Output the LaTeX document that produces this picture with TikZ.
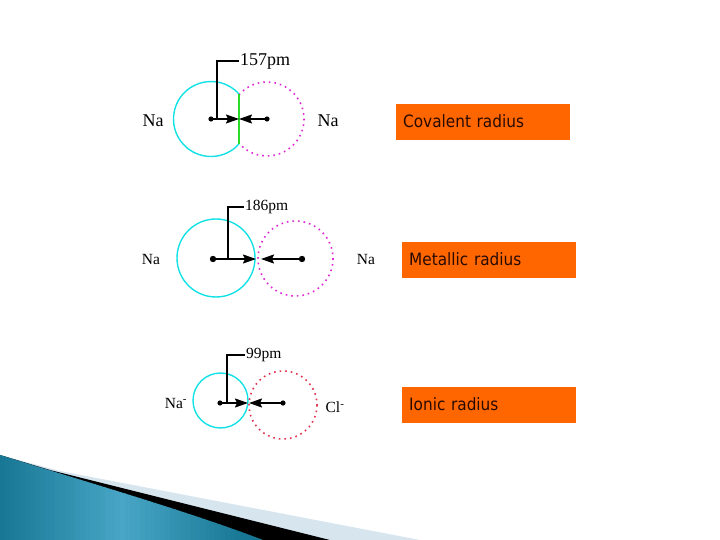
\documentclass[tikz,border=0pt]{standalone}
\usepackage{fontspec}
\setmainfont{Liberation Serif}
\newfontfamily\boxfont{DejaVu Sans}[FakeStretch=0.9]
\usetikzlibrary{arrows.meta}
\definecolor{shellcyan}{RGB}{20,225,230}
\definecolor{shellpink}{RGB}{225,40,215}
\definecolor{shellred}{RGB}{225,50,80}
\definecolor{bondgreen}{RGB}{40,220,40}
\definecolor{boxorange}{RGB}{255,102,0}
\definecolor{boxtext}{RGB}{40,10,0}
\definecolor{tealdark}{RGB}{22,118,148}
\definecolor{teallight}{RGB}{90,182,215}
\definecolor{sheen}{RGB}{214,229,238}
\tikzset{
	shell/.style={line width=1.4pt},
	ghost/.style={line width=1.6pt, dash pattern=on 1.6pt off 4pt},
	radius arrow/.style={line width=1.6pt, -{Stealth[length=13pt,width=9pt,inset=2pt]}},
	leader/.style={line width=1.5pt},
	radbox/.style={fill=boxorange, anchor=north west, minimum width=174pt, minimum height=36pt,
		text width=160pt, align=left, inner xsep=7pt, inner ysep=0pt, font=\boxfont\fontsize{17}{20}\selectfont, text=boxtext},
	big tag/.style={font=\fontsize{18}{20}\selectfont, inner sep=1pt},
	small tag/.style={font=\fontsize{15.5}{18}\selectfont, inner sep=1pt}
}
\begin{document}
\begin{tikzpicture}[x=1pt,y=-1pt]
		\useasboundingbox (0,0) rectangle (720,540);

		\fill[sheen] (0,455) -- (60,471) -- (420,540) -- (0,540) -- cycle;
		\fill[black] (0,455) -- (50,470) -- (330,540) -- (0,540) -- cycle;
		\begin{scope}
			\clip (0,455) .. controls (90,483) and (190,512) .. (263,540) -- (0,540) -- cycle;
			\foreach \i in {0,...,53} {
				\pgfmathtruncatemacro\mix{max(0,75-abs(\i*5-120)*0.6)}
				\fill[teallight!\mix!tealdark] (\i*5,450) rectangle ++(5.6,92);
			}
		\end{scope}

		\coordinate (na1) at (211,119);
		\coordinate (na2) at (267,119);
		\coordinate (bond1) at (239,119);
		\coordinate (bondtop) at (239,94);
		\coordinate (bondbot) at (239,144.5);
		\coordinate (foot1) at (217,119);
		\draw[shell, shellcyan] (na1) ++(41.6:37.5) arc[start angle=41.6, end angle=318.4, radius=37.5];
		\draw[ghost, shellpink] (na2) ++(220.8:37) arc[start angle=220.8, end angle=499.2, radius=37];
		\draw[line width=1.5pt, bondgreen] (bondtop) -- (bondbot);
		\fill (na1) circle (2.6);
		\fill (na2) circle (2.6);
		\draw[radius arrow] (na1) -- (bond1);
		\draw[radius arrow] (na2) -- (bond1);
		\node[big tag, anchor=west] (cov) at (239,61) {157pm};
		\draw[leader] (foot1) |- (cov.west);
		\node[big tag] (nacl) at (153,121) {Na};
		\node[big tag] (nacr) at (328,121) {Na};
		\node[radbox] (covbox) at (396,104) {\raisebox{1.5pt}{Covalent radius}};

		\coordinate (na3) at (213,259);
		\coordinate (na4) at (302,259);
		\coordinate (tip3) at (256,259);
		\coordinate (tip4) at (261,259);
		\coordinate (foot2) at (228,259);
		\draw[shell, shellcyan] (216,258) circle (39);
		\draw[ghost, shellpink] (295.5,258.5) circle (37.5);
		\fill (na3) circle (3.2);
		\fill (na4) circle (3.2);
		\draw[radius arrow] (na3) -- (tip3);
		\draw[radius arrow] (na4) -- (tip4);
		\node[small tag, anchor=west] (met) at (244,207) {186pm};
		\draw[leader] (foot2) |- (met.west);
		\node[small tag] (naml) at (151,260) {Na};
		\node[small tag] (namr) at (366,260) {Na};
		\node[radbox] (metbox) at (402,242) {\raisebox{1.5pt}{Metallic radius}};

		\coordinate (na5) at (220,403);
		\coordinate (cl6) at (283,403);
		\coordinate (tip5) at (248,403);
		\coordinate (tip6) at (249,403);
		\coordinate (foot3) at (227,403);
		\draw[shell, shellcyan] (220.5,400.5) circle (27.5);
		\draw[ghost, shellred] (283,405) circle (34);
		\fill (na5) circle (2.6);
		\fill (cl6) circle (2.6);
		\draw[radius arrow] (na5) -- (tip5);
		\draw[radius arrow] (cl6) -- (tip6);
		\node[small tag, anchor=west] (ion) at (245,355) {99pm};
		\draw[leader] (foot3) |- (ion.west);
		\node[small tag] (naion) at (176,403) {Na\textsuperscript{-}};
		\node[small tag] (clion) at (335,407) {Cl\textsuperscript{-}};
		\node[radbox] (ionbox) at (402,387) {\raisebox{1.5pt}{Ionic radius}};
\end{tikzpicture}
\end{document}
